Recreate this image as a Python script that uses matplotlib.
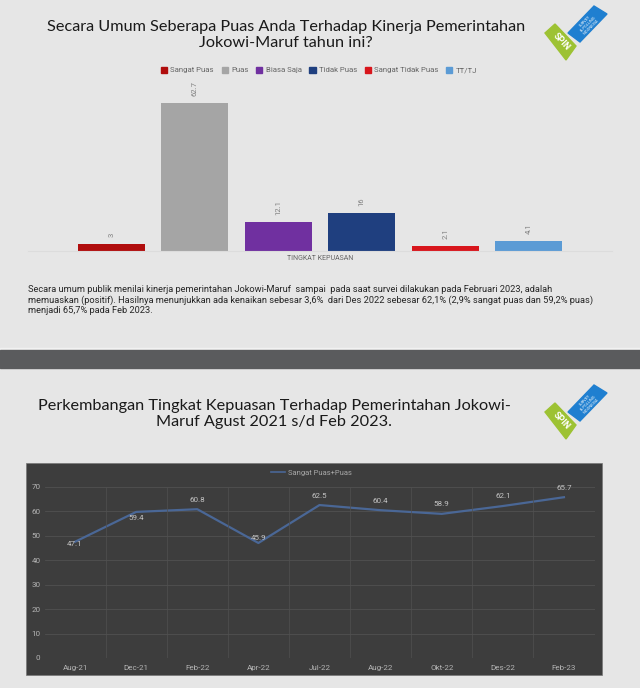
import numpy as np
import matplotlib
matplotlib.use("Agg")
import matplotlib.pyplot as plt
from matplotlib.patches import Polygon, Rectangle
from matplotlib.lines import Line2D

W, H = 640, 688
plt.rcParams['font.family'] = ['Roboto', 'DejaVu Sans']

# top chart
categories = ['Sangat Puas', 'Puas', 'Biasa Saja', 'Tidak Puas', 'Sangat Tidak Puas', 'TT/TJ']
values = [3, 62.7, 12.1, 16, 2.1, 4.1]
value_labels = ['3', '62.7', '12.1', '16', '2.1', '4.1']
bar_colors = ['#b00d0d', '#a5a5a5', '#7030a0', '#1f3f7f', '#d8161c', '#5b9bd5']

# bottom chart
months = ['Aug-21', 'Dec-21', 'Feb-22', 'Apr-22', 'Jul-22', 'Aug-22', 'Okt-22', 'Des-22', 'Feb-23']
line_values = [47.5, 59.7, 60.8, 47.0, 62.5, 60.4, 58.9, 62.1, 65.7]
line_labels = ['47.1', '59.4', '60.8', '45.9', '62.5', '60.4', '58.9', '62.1', '65.7']
label_offset = [-2, -6, 9, 5, 9, 9, 10, 10, 9]


def box(x0, y0, x1, y1):
    # pixel box (y from top) to figure fraction
    return [x0 / W, 1 - y1 / H, (x1 - x0) / W, (y1 - y0) / H]


fig = plt.figure(figsize=(W / 100, H / 100), dpi=100, facecolor='#e6e6e6')
bg = fig.add_axes([0, 0, 1, 1])
bg.set_xlim(0, W)
bg.set_ylim(H, 0)
bg.axis('off')

# grey band and dark panel
bg.add_patch(Rectangle((0, 348), W, 1.5, color='#f2f2f2'))
bg.add_patch(Rectangle((0, 349.5), W, 18.5, color='#5a5b5d'))
bg.add_patch(Rectangle((26, 463), 576, 212, facecolor='#3d3d3d', edgecolor='#777777', lw=0.5))


def logo(dy):
    green = [(545, 33 + dy), (555, 24 + dy), (576, 46 + dy), (566, 60 + dy)]
    blue = [(568, 33 + dy), (594, 6 + dy), (607, 14 + dy), (580, 42 + dy)]
    bg.add_patch(Polygon(green, color='#9dc233'))
    bg.add_patch(Polygon(blue, color='#1f7fd0'))
    bg.text(561, 42 + dy, 'SPIN', color='white', fontsize=6.5, fontweight='bold', rotation=-47,
            ha='center', va='center', rotation_mode='anchor')
    bg.text(588, 24 + dy, 'SURVEY\n& POLLING\nINDONESIA', color='white', fontsize=2.8, rotation=45,
            ha='center', va='center', rotation_mode='anchor', linespacing=1.0)


logo(0)
logo(379)

title_font = ['Lato', 'Roboto', 'DejaVu Sans']
bg.text(286, 35, 'Secara Umum Seberapa Puas Anda Terhadap Kinerja Pemerintahan\nJokowi-Maruf tahun ini?',
        ha='center', va='center', fontsize=11.7, color='#1a1a1a', linespacing=1.2, family=title_font)
bg.text(274.5, 414, 'Perkembangan Tingkat Kepuasan Terhadap Pemerintahan Jokowi-\nMaruf Agust 2021 s/d Feb 2023.',
        ha='center', va='center', fontsize=11.7, color='#1a1a1a', linespacing=1.2, family=title_font)
bg.text(28.5, 300, 'Secara umum publik menilai kinerja pemerintahan Jokowi-Maruf  sampai  pada saat survei dilakukan pada Februari 2023, adalah\n'
        'memuaskan (positif). Hasilnya menunjukkan ada kenaikan sebesar 3,6%  dari Des 2022 sebesar 62,1% (2,9% sangat puas dan 59,2% puas)\n'
        'menjadi 65,7% pada Feb 2023.', ha='left', va='center', fontsize=6.7, color='#262626', linespacing=1.2)

# bars
ax = fig.add_axes(box(28, 80, 612, 251))
ax.patch.set_alpha(0)
x = np.arange(len(values))
ax.bar(x, values, width=0.8, color=bar_colors)
ax.set_xlim(-1, 6)
ax.set_ylim(0, 171 / 2.36)
for i in x:
    ax.annotate(value_labels[i], (x[i], values[i]), xytext=(0, 5), textcoords='offset points', ha='center',
                va='bottom', rotation=90, fontsize=5.5, color='#808080')
for s in ['top', 'left', 'right']:
    ax.spines[s].set_visible(False)
ax.spines['bottom'].set_color('#dcdcdc')
ax.set_yticks([])
ax.set_xticks([])
ax.set_xlabel('TINGKAT KEPUASAN', fontsize=5, color='#666666', labelpad=3)
handles = [Rectangle((0, 0), 1, 1, color=c) for c in bar_colors]
fig.legend(handles, categories, loc='center', bbox_to_anchor=(319 / W, 1 - 70 / H), ncol=6, frameon=False,
           fontsize=5.6, labelcolor='#666666', handlelength=0.8, handleheight=0.8, handletextpad=0.4,
           columnspacing=1.0)

# line chart
ax2 = fig.add_axes(box(44.5, 486.7, 594.5, 658))
ax2.patch.set_alpha(0)
xm = np.arange(len(months))
ax2.plot(xm, line_values, color='#4a6796', lw=1.6, label='Sangat Puas+Puas')
ax2.set_xlim(-0.5, 8.5)
ax2.set_ylim(0, 70)
for i in xm:
    ax2.annotate(line_labels[i], (xm[i], line_values[i]), xytext=(0, label_offset[i]), textcoords='offset pixels',
                 ha='center', va='center', fontsize=5.8, color='#c4c4c4')
ax2.set_yticks(np.arange(0, 71, 10))
ax2.set_xticks(xm)
ax2.set_xticklabels(months)
ax2.tick_params(length=0, labelsize=5.8, labelcolor='#b4b4b4', pad=5)
ax2.tick_params(axis='y', pad=3)
ax2.grid(axis='y', color='#555555', lw=0.5)
for b in xm[:-1] + 0.5:
    ax2.axvline(b, color='#505050', lw=0.5)
for s in ax2.spines.values():
    s.set_visible(False)
ax2.legend(handles=[Line2D([], [], color='#4a6796', lw=1.2)], labels=['Sangat Puas+Puas'], loc='center',
           bbox_to_anchor=(0.486, 1.08), frameon=False, fontsize=5.5, labelcolor='#a8a8a8', handlelength=1.8,
           handletextpad=0.4)

fig.savefig('out.png', dpi=100, facecolor=fig.get_facecolor())
